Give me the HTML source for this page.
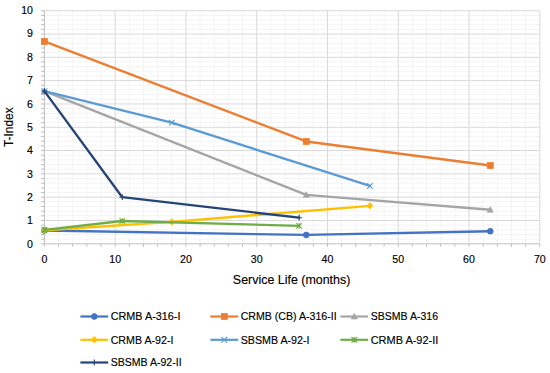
<!DOCTYPE html>
<html><head><meta charset="utf-8"><style>
html,body{margin:0;padding:0;background:#fff;}
svg{display:block;}
text{font-family:"Liberation Sans",sans-serif;fill:#000000;stroke:#000000;stroke-width:0.15px;}
</style></head><body>
<svg width="550" height="373" viewBox="0 0 550 373">
<rect width="550" height="373" fill="#fff"/>
<line x1="44.40" y1="239.14" x2="539.79" y2="239.14" stroke="#F4F4F4"/>
<line x1="44.40" y1="234.48" x2="539.79" y2="234.48" stroke="#F4F4F4"/>
<line x1="44.40" y1="229.81" x2="539.79" y2="229.81" stroke="#F4F4F4"/>
<line x1="44.40" y1="225.15" x2="539.79" y2="225.15" stroke="#F4F4F4"/>
<line x1="44.40" y1="215.83" x2="539.79" y2="215.83" stroke="#F4F4F4"/>
<line x1="44.40" y1="211.17" x2="539.79" y2="211.17" stroke="#F4F4F4"/>
<line x1="44.40" y1="206.50" x2="539.79" y2="206.50" stroke="#F4F4F4"/>
<line x1="44.40" y1="201.84" x2="539.79" y2="201.84" stroke="#F4F4F4"/>
<line x1="44.40" y1="192.52" x2="539.79" y2="192.52" stroke="#F4F4F4"/>
<line x1="44.40" y1="187.86" x2="539.79" y2="187.86" stroke="#F4F4F4"/>
<line x1="44.40" y1="183.19" x2="539.79" y2="183.19" stroke="#F4F4F4"/>
<line x1="44.40" y1="178.53" x2="539.79" y2="178.53" stroke="#F4F4F4"/>
<line x1="44.40" y1="169.21" x2="539.79" y2="169.21" stroke="#F4F4F4"/>
<line x1="44.40" y1="164.55" x2="539.79" y2="164.55" stroke="#F4F4F4"/>
<line x1="44.40" y1="159.88" x2="539.79" y2="159.88" stroke="#F4F4F4"/>
<line x1="44.40" y1="155.22" x2="539.79" y2="155.22" stroke="#F4F4F4"/>
<line x1="44.40" y1="145.90" x2="539.79" y2="145.90" stroke="#F4F4F4"/>
<line x1="44.40" y1="141.24" x2="539.79" y2="141.24" stroke="#F4F4F4"/>
<line x1="44.40" y1="136.57" x2="539.79" y2="136.57" stroke="#F4F4F4"/>
<line x1="44.40" y1="131.91" x2="539.79" y2="131.91" stroke="#F4F4F4"/>
<line x1="44.40" y1="122.59" x2="539.79" y2="122.59" stroke="#F4F4F4"/>
<line x1="44.40" y1="117.93" x2="539.79" y2="117.93" stroke="#F4F4F4"/>
<line x1="44.40" y1="113.26" x2="539.79" y2="113.26" stroke="#F4F4F4"/>
<line x1="44.40" y1="108.60" x2="539.79" y2="108.60" stroke="#F4F4F4"/>
<line x1="44.40" y1="99.28" x2="539.79" y2="99.28" stroke="#F4F4F4"/>
<line x1="44.40" y1="94.62" x2="539.79" y2="94.62" stroke="#F4F4F4"/>
<line x1="44.40" y1="89.95" x2="539.79" y2="89.95" stroke="#F4F4F4"/>
<line x1="44.40" y1="85.29" x2="539.79" y2="85.29" stroke="#F4F4F4"/>
<line x1="44.40" y1="75.97" x2="539.79" y2="75.97" stroke="#F4F4F4"/>
<line x1="44.40" y1="71.31" x2="539.79" y2="71.31" stroke="#F4F4F4"/>
<line x1="44.40" y1="66.64" x2="539.79" y2="66.64" stroke="#F4F4F4"/>
<line x1="44.40" y1="61.98" x2="539.79" y2="61.98" stroke="#F4F4F4"/>
<line x1="44.40" y1="52.66" x2="539.79" y2="52.66" stroke="#F4F4F4"/>
<line x1="44.40" y1="48.00" x2="539.79" y2="48.00" stroke="#F4F4F4"/>
<line x1="44.40" y1="43.33" x2="539.79" y2="43.33" stroke="#F4F4F4"/>
<line x1="44.40" y1="38.67" x2="539.79" y2="38.67" stroke="#F4F4F4"/>
<line x1="44.40" y1="29.35" x2="539.79" y2="29.35" stroke="#F4F4F4"/>
<line x1="44.40" y1="24.69" x2="539.79" y2="24.69" stroke="#F4F4F4"/>
<line x1="44.40" y1="20.02" x2="539.79" y2="20.02" stroke="#F4F4F4"/>
<line x1="44.40" y1="15.36" x2="539.79" y2="15.36" stroke="#F4F4F4"/>
<line x1="58.55" y1="10.70" x2="58.55" y2="243.80" stroke="#F4F4F4"/>
<line x1="72.71" y1="10.70" x2="72.71" y2="243.80" stroke="#F4F4F4"/>
<line x1="86.86" y1="10.70" x2="86.86" y2="243.80" stroke="#F4F4F4"/>
<line x1="101.02" y1="10.70" x2="101.02" y2="243.80" stroke="#F4F4F4"/>
<line x1="129.32" y1="10.70" x2="129.32" y2="243.80" stroke="#F4F4F4"/>
<line x1="143.48" y1="10.70" x2="143.48" y2="243.80" stroke="#F4F4F4"/>
<line x1="157.63" y1="10.70" x2="157.63" y2="243.80" stroke="#F4F4F4"/>
<line x1="171.79" y1="10.70" x2="171.79" y2="243.80" stroke="#F4F4F4"/>
<line x1="200.09" y1="10.70" x2="200.09" y2="243.80" stroke="#F4F4F4"/>
<line x1="214.25" y1="10.70" x2="214.25" y2="243.80" stroke="#F4F4F4"/>
<line x1="228.40" y1="10.70" x2="228.40" y2="243.80" stroke="#F4F4F4"/>
<line x1="242.56" y1="10.70" x2="242.56" y2="243.80" stroke="#F4F4F4"/>
<line x1="270.86" y1="10.70" x2="270.86" y2="243.80" stroke="#F4F4F4"/>
<line x1="285.02" y1="10.70" x2="285.02" y2="243.80" stroke="#F4F4F4"/>
<line x1="299.17" y1="10.70" x2="299.17" y2="243.80" stroke="#F4F4F4"/>
<line x1="313.33" y1="10.70" x2="313.33" y2="243.80" stroke="#F4F4F4"/>
<line x1="341.63" y1="10.70" x2="341.63" y2="243.80" stroke="#F4F4F4"/>
<line x1="355.79" y1="10.70" x2="355.79" y2="243.80" stroke="#F4F4F4"/>
<line x1="369.94" y1="10.70" x2="369.94" y2="243.80" stroke="#F4F4F4"/>
<line x1="384.10" y1="10.70" x2="384.10" y2="243.80" stroke="#F4F4F4"/>
<line x1="412.40" y1="10.70" x2="412.40" y2="243.80" stroke="#F4F4F4"/>
<line x1="426.56" y1="10.70" x2="426.56" y2="243.80" stroke="#F4F4F4"/>
<line x1="440.71" y1="10.70" x2="440.71" y2="243.80" stroke="#F4F4F4"/>
<line x1="454.87" y1="10.70" x2="454.87" y2="243.80" stroke="#F4F4F4"/>
<line x1="483.17" y1="10.70" x2="483.17" y2="243.80" stroke="#F4F4F4"/>
<line x1="497.33" y1="10.70" x2="497.33" y2="243.80" stroke="#F4F4F4"/>
<line x1="511.48" y1="10.70" x2="511.48" y2="243.80" stroke="#F4F4F4"/>
<line x1="525.64" y1="10.70" x2="525.64" y2="243.80" stroke="#F4F4F4"/>
<line x1="44.40" y1="220.49" x2="539.79" y2="220.49" stroke="#D9D9D9"/>
<line x1="44.40" y1="197.18" x2="539.79" y2="197.18" stroke="#D9D9D9"/>
<line x1="44.40" y1="173.87" x2="539.79" y2="173.87" stroke="#D9D9D9"/>
<line x1="44.40" y1="150.56" x2="539.79" y2="150.56" stroke="#D9D9D9"/>
<line x1="44.40" y1="127.25" x2="539.79" y2="127.25" stroke="#D9D9D9"/>
<line x1="44.40" y1="103.94" x2="539.79" y2="103.94" stroke="#D9D9D9"/>
<line x1="44.40" y1="80.63" x2="539.79" y2="80.63" stroke="#D9D9D9"/>
<line x1="44.40" y1="57.32" x2="539.79" y2="57.32" stroke="#D9D9D9"/>
<line x1="44.40" y1="34.01" x2="539.79" y2="34.01" stroke="#D9D9D9"/>
<line x1="44.40" y1="10.70" x2="539.79" y2="10.70" stroke="#D9D9D9"/>
<line x1="115.17" y1="10.70" x2="115.17" y2="243.80" stroke="#D9D9D9"/>
<line x1="185.94" y1="10.70" x2="185.94" y2="243.80" stroke="#D9D9D9"/>
<line x1="256.71" y1="10.70" x2="256.71" y2="243.80" stroke="#D9D9D9"/>
<line x1="327.48" y1="10.70" x2="327.48" y2="243.80" stroke="#D9D9D9"/>
<line x1="398.25" y1="10.70" x2="398.25" y2="243.80" stroke="#D9D9D9"/>
<line x1="469.02" y1="10.70" x2="469.02" y2="243.80" stroke="#D9D9D9"/>
<line x1="539.79" y1="10.70" x2="539.79" y2="243.80" stroke="#D9D9D9"/>
<line x1="41.00" y1="243.80" x2="44.40" y2="243.80" stroke="#BFBFBF"/>
<line x1="41.00" y1="239.14" x2="44.40" y2="239.14" stroke="#BFBFBF"/>
<line x1="41.00" y1="234.48" x2="44.40" y2="234.48" stroke="#BFBFBF"/>
<line x1="41.00" y1="229.81" x2="44.40" y2="229.81" stroke="#BFBFBF"/>
<line x1="41.00" y1="225.15" x2="44.40" y2="225.15" stroke="#BFBFBF"/>
<line x1="41.00" y1="220.49" x2="44.40" y2="220.49" stroke="#BFBFBF"/>
<line x1="41.00" y1="215.83" x2="44.40" y2="215.83" stroke="#BFBFBF"/>
<line x1="41.00" y1="211.17" x2="44.40" y2="211.17" stroke="#BFBFBF"/>
<line x1="41.00" y1="206.50" x2="44.40" y2="206.50" stroke="#BFBFBF"/>
<line x1="41.00" y1="201.84" x2="44.40" y2="201.84" stroke="#BFBFBF"/>
<line x1="41.00" y1="197.18" x2="44.40" y2="197.18" stroke="#BFBFBF"/>
<line x1="41.00" y1="192.52" x2="44.40" y2="192.52" stroke="#BFBFBF"/>
<line x1="41.00" y1="187.86" x2="44.40" y2="187.86" stroke="#BFBFBF"/>
<line x1="41.00" y1="183.19" x2="44.40" y2="183.19" stroke="#BFBFBF"/>
<line x1="41.00" y1="178.53" x2="44.40" y2="178.53" stroke="#BFBFBF"/>
<line x1="41.00" y1="173.87" x2="44.40" y2="173.87" stroke="#BFBFBF"/>
<line x1="41.00" y1="169.21" x2="44.40" y2="169.21" stroke="#BFBFBF"/>
<line x1="41.00" y1="164.55" x2="44.40" y2="164.55" stroke="#BFBFBF"/>
<line x1="41.00" y1="159.88" x2="44.40" y2="159.88" stroke="#BFBFBF"/>
<line x1="41.00" y1="155.22" x2="44.40" y2="155.22" stroke="#BFBFBF"/>
<line x1="41.00" y1="150.56" x2="44.40" y2="150.56" stroke="#BFBFBF"/>
<line x1="41.00" y1="145.90" x2="44.40" y2="145.90" stroke="#BFBFBF"/>
<line x1="41.00" y1="141.24" x2="44.40" y2="141.24" stroke="#BFBFBF"/>
<line x1="41.00" y1="136.57" x2="44.40" y2="136.57" stroke="#BFBFBF"/>
<line x1="41.00" y1="131.91" x2="44.40" y2="131.91" stroke="#BFBFBF"/>
<line x1="41.00" y1="127.25" x2="44.40" y2="127.25" stroke="#BFBFBF"/>
<line x1="41.00" y1="122.59" x2="44.40" y2="122.59" stroke="#BFBFBF"/>
<line x1="41.00" y1="117.93" x2="44.40" y2="117.93" stroke="#BFBFBF"/>
<line x1="41.00" y1="113.26" x2="44.40" y2="113.26" stroke="#BFBFBF"/>
<line x1="41.00" y1="108.60" x2="44.40" y2="108.60" stroke="#BFBFBF"/>
<line x1="41.00" y1="103.94" x2="44.40" y2="103.94" stroke="#BFBFBF"/>
<line x1="41.00" y1="99.28" x2="44.40" y2="99.28" stroke="#BFBFBF"/>
<line x1="41.00" y1="94.62" x2="44.40" y2="94.62" stroke="#BFBFBF"/>
<line x1="41.00" y1="89.95" x2="44.40" y2="89.95" stroke="#BFBFBF"/>
<line x1="41.00" y1="85.29" x2="44.40" y2="85.29" stroke="#BFBFBF"/>
<line x1="41.00" y1="80.63" x2="44.40" y2="80.63" stroke="#BFBFBF"/>
<line x1="41.00" y1="75.97" x2="44.40" y2="75.97" stroke="#BFBFBF"/>
<line x1="41.00" y1="71.31" x2="44.40" y2="71.31" stroke="#BFBFBF"/>
<line x1="41.00" y1="66.64" x2="44.40" y2="66.64" stroke="#BFBFBF"/>
<line x1="41.00" y1="61.98" x2="44.40" y2="61.98" stroke="#BFBFBF"/>
<line x1="41.00" y1="57.32" x2="44.40" y2="57.32" stroke="#BFBFBF"/>
<line x1="41.00" y1="52.66" x2="44.40" y2="52.66" stroke="#BFBFBF"/>
<line x1="41.00" y1="48.00" x2="44.40" y2="48.00" stroke="#BFBFBF"/>
<line x1="41.00" y1="43.33" x2="44.40" y2="43.33" stroke="#BFBFBF"/>
<line x1="41.00" y1="38.67" x2="44.40" y2="38.67" stroke="#BFBFBF"/>
<line x1="41.00" y1="34.01" x2="44.40" y2="34.01" stroke="#BFBFBF"/>
<line x1="41.00" y1="29.35" x2="44.40" y2="29.35" stroke="#BFBFBF"/>
<line x1="41.00" y1="24.69" x2="44.40" y2="24.69" stroke="#BFBFBF"/>
<line x1="41.00" y1="20.02" x2="44.40" y2="20.02" stroke="#BFBFBF"/>
<line x1="41.00" y1="15.36" x2="44.40" y2="15.36" stroke="#BFBFBF"/>
<line x1="41.00" y1="10.70" x2="44.40" y2="10.70" stroke="#BFBFBF"/>
<line x1="44.40" y1="243.80" x2="44.40" y2="246.80" stroke="#BFBFBF"/>
<line x1="58.55" y1="243.80" x2="58.55" y2="246.80" stroke="#BFBFBF"/>
<line x1="72.71" y1="243.80" x2="72.71" y2="246.80" stroke="#BFBFBF"/>
<line x1="86.86" y1="243.80" x2="86.86" y2="246.80" stroke="#BFBFBF"/>
<line x1="101.02" y1="243.80" x2="101.02" y2="246.80" stroke="#BFBFBF"/>
<line x1="115.17" y1="243.80" x2="115.17" y2="246.80" stroke="#BFBFBF"/>
<line x1="129.32" y1="243.80" x2="129.32" y2="246.80" stroke="#BFBFBF"/>
<line x1="143.48" y1="243.80" x2="143.48" y2="246.80" stroke="#BFBFBF"/>
<line x1="157.63" y1="243.80" x2="157.63" y2="246.80" stroke="#BFBFBF"/>
<line x1="171.79" y1="243.80" x2="171.79" y2="246.80" stroke="#BFBFBF"/>
<line x1="185.94" y1="243.80" x2="185.94" y2="246.80" stroke="#BFBFBF"/>
<line x1="200.09" y1="243.80" x2="200.09" y2="246.80" stroke="#BFBFBF"/>
<line x1="214.25" y1="243.80" x2="214.25" y2="246.80" stroke="#BFBFBF"/>
<line x1="228.40" y1="243.80" x2="228.40" y2="246.80" stroke="#BFBFBF"/>
<line x1="242.56" y1="243.80" x2="242.56" y2="246.80" stroke="#BFBFBF"/>
<line x1="256.71" y1="243.80" x2="256.71" y2="246.80" stroke="#BFBFBF"/>
<line x1="270.86" y1="243.80" x2="270.86" y2="246.80" stroke="#BFBFBF"/>
<line x1="285.02" y1="243.80" x2="285.02" y2="246.80" stroke="#BFBFBF"/>
<line x1="299.17" y1="243.80" x2="299.17" y2="246.80" stroke="#BFBFBF"/>
<line x1="313.33" y1="243.80" x2="313.33" y2="246.80" stroke="#BFBFBF"/>
<line x1="327.48" y1="243.80" x2="327.48" y2="246.80" stroke="#BFBFBF"/>
<line x1="341.63" y1="243.80" x2="341.63" y2="246.80" stroke="#BFBFBF"/>
<line x1="355.79" y1="243.80" x2="355.79" y2="246.80" stroke="#BFBFBF"/>
<line x1="369.94" y1="243.80" x2="369.94" y2="246.80" stroke="#BFBFBF"/>
<line x1="384.10" y1="243.80" x2="384.10" y2="246.80" stroke="#BFBFBF"/>
<line x1="398.25" y1="243.80" x2="398.25" y2="246.80" stroke="#BFBFBF"/>
<line x1="412.40" y1="243.80" x2="412.40" y2="246.80" stroke="#BFBFBF"/>
<line x1="426.56" y1="243.80" x2="426.56" y2="246.80" stroke="#BFBFBF"/>
<line x1="440.71" y1="243.80" x2="440.71" y2="246.80" stroke="#BFBFBF"/>
<line x1="454.87" y1="243.80" x2="454.87" y2="246.80" stroke="#BFBFBF"/>
<line x1="469.02" y1="243.80" x2="469.02" y2="246.80" stroke="#BFBFBF"/>
<line x1="483.17" y1="243.80" x2="483.17" y2="246.80" stroke="#BFBFBF"/>
<line x1="497.33" y1="243.80" x2="497.33" y2="246.80" stroke="#BFBFBF"/>
<line x1="511.48" y1="243.80" x2="511.48" y2="246.80" stroke="#BFBFBF"/>
<line x1="525.64" y1="243.80" x2="525.64" y2="246.80" stroke="#BFBFBF"/>
<line x1="539.79" y1="243.80" x2="539.79" y2="246.80" stroke="#BFBFBF"/>
<line x1="44.40" y1="10.70" x2="44.40" y2="243.80" stroke="#BFBFBF"/>
<line x1="44.40" y1="243.80" x2="539.79" y2="243.80" stroke="#BFBFBF"/>
<path d="M44.40 230.51L306.25 234.94L490.25 231.21" fill="none" stroke="#4472C4" stroke-width="2.35" stroke-linejoin="round" stroke-linecap="round"/>
<circle cx="44.40" cy="230.51" r="2.90" fill="#4472C4" stroke="#4472C4" stroke-width="0.75"/>
<circle cx="306.25" cy="234.94" r="2.90" fill="#4472C4" stroke="#4472C4" stroke-width="0.75"/>
<circle cx="490.25" cy="231.21" r="2.90" fill="#4472C4" stroke="#4472C4" stroke-width="0.75"/>
<path d="M44.40 41.47L306.25 141.47L490.25 165.48" fill="none" stroke="#ED7D31" stroke-width="2.35" stroke-linejoin="round" stroke-linecap="round"/>
<rect x="41.40" y="38.47" width="6.00" height="6.00" fill="#ED7D31" stroke="#ED7D31" stroke-width="0.75"/>
<rect x="303.25" y="138.47" width="6.00" height="6.00" fill="#ED7D31" stroke="#ED7D31" stroke-width="0.75"/>
<rect x="487.25" y="162.48" width="6.00" height="6.00" fill="#ED7D31" stroke="#ED7D31" stroke-width="0.75"/>
<path d="M44.40 91.12L306.25 194.85L490.25 209.77" fill="none" stroke="#A5A5A5" stroke-width="2.35" stroke-linejoin="round" stroke-linecap="round"/>
<path d="M44.40 88.12L47.40 93.52L41.40 93.52Z" fill="#A5A5A5" stroke="#A5A5A5" stroke-width="0.75"/>
<path d="M306.25 191.85L309.25 197.25L303.25 197.25Z" fill="#A5A5A5" stroke="#A5A5A5" stroke-width="0.75"/>
<path d="M490.25 206.77L493.25 212.17L487.25 212.17Z" fill="#A5A5A5" stroke="#A5A5A5" stroke-width="0.75"/>
<path d="M44.40 230.28L171.79 221.89L369.94 205.80" fill="none" stroke="#FFC000" stroke-width="2.35" stroke-linejoin="round" stroke-linecap="round"/>
<path d="M44.40 226.98L47.20 230.28L44.40 233.58L41.59 230.28Z" fill="#FFC000" stroke="#FFC000" stroke-width="0.75"/>
<path d="M171.79 218.59L174.59 221.89L171.79 225.19L168.98 221.89Z" fill="#FFC000" stroke="#FFC000" stroke-width="0.75"/>
<path d="M369.94 202.50L372.75 205.80L369.94 209.10L367.14 205.80Z" fill="#FFC000" stroke="#FFC000" stroke-width="0.75"/>
<path d="M44.40 91.12L171.79 122.59L369.94 185.99" fill="none" stroke="#5B9BD5" stroke-width="2.35" stroke-linejoin="round" stroke-linecap="round"/>
<path d="M41.60 88.32L47.20 93.92M47.20 88.32L41.60 93.92" stroke="#5B9BD5" stroke-width="1.1" fill="none"/>
<path d="M168.99 119.79L174.59 125.39M174.59 119.79L168.99 125.39" stroke="#5B9BD5" stroke-width="1.1" fill="none"/>
<path d="M367.14 183.19L372.74 188.79M372.74 183.19L367.14 188.79" stroke="#5B9BD5" stroke-width="1.1" fill="none"/>
<path d="M44.40 229.81L122.25 220.96L299.17 225.85" fill="none" stroke="#70AD47" stroke-width="2.35" stroke-linejoin="round" stroke-linecap="round"/>
<path d="M41.60 227.01L47.20 232.61M47.20 227.01L41.60 232.61M44.40 227.01L44.40 232.61" stroke="#70AD47" stroke-width="1.1" fill="none"/>
<path d="M119.45 218.16L125.05 223.76M125.05 218.16L119.45 223.76M122.25 218.16L122.25 223.76" stroke="#70AD47" stroke-width="1.1" fill="none"/>
<path d="M296.37 223.05L301.97 228.65M301.97 223.05L296.37 228.65M299.17 223.05L299.17 228.65" stroke="#70AD47" stroke-width="1.1" fill="none"/>
<path d="M44.40 91.12L122.25 197.18L299.17 217.69" fill="none" stroke="#264478" stroke-width="2.35" stroke-linejoin="round" stroke-linecap="round"/>
<path d="M41.50 91.12L47.30 91.12M44.40 88.22L44.40 94.02" stroke="#264478" stroke-width="1.1" fill="none"/>
<path d="M119.35 197.18L125.15 197.18M122.25 194.28L122.25 200.08" stroke="#264478" stroke-width="1.1" fill="none"/>
<path d="M296.27 217.69L302.07 217.69M299.17 214.79L299.17 220.59" stroke="#264478" stroke-width="1.1" fill="none"/>
<text x="33" y="247.60" text-anchor="end" font-size="10.6">0</text>
<text x="33" y="224.29" text-anchor="end" font-size="10.6">1</text>
<text x="33" y="200.98" text-anchor="end" font-size="10.6">2</text>
<text x="33" y="177.67" text-anchor="end" font-size="10.6">3</text>
<text x="33" y="154.36" text-anchor="end" font-size="10.6">4</text>
<text x="33" y="131.05" text-anchor="end" font-size="10.6">5</text>
<text x="33" y="107.74" text-anchor="end" font-size="10.6">6</text>
<text x="33" y="84.43" text-anchor="end" font-size="10.6">7</text>
<text x="33" y="61.12" text-anchor="end" font-size="10.6">8</text>
<text x="33" y="37.31" text-anchor="end" font-size="10.6">9</text>
<text x="33" y="13.50" text-anchor="end" font-size="10.6">10</text>
<text x="44.40" y="263.0" text-anchor="middle" font-size="10.6">0</text>
<text x="115.17" y="263.0" text-anchor="middle" font-size="10.6">10</text>
<text x="185.94" y="263.0" text-anchor="middle" font-size="10.6">20</text>
<text x="256.71" y="263.0" text-anchor="middle" font-size="10.6">30</text>
<text x="327.48" y="263.0" text-anchor="middle" font-size="10.6">40</text>
<text x="398.25" y="263.0" text-anchor="middle" font-size="10.6">50</text>
<text x="469.02" y="263.0" text-anchor="middle" font-size="10.6">60</text>
<text x="539.79" y="263.0" text-anchor="middle" font-size="10.6">70</text>
<text x="291.6" y="284.4" text-anchor="middle" font-size="12.8" textLength="117.5" lengthAdjust="spacingAndGlyphs">Service Life (months)</text>
<text transform="translate(12.6 127.2) rotate(-90)" text-anchor="middle" font-size="12.8" textLength="39.6" lengthAdjust="spacingAndGlyphs">T-Index</text>
<line x1="80.40" y1="316.50" x2="108.20" y2="316.50" stroke="#4472C4" stroke-width="2.2"/>
<circle cx="94.30" cy="316.50" r="2.90" fill="#4472C4" stroke="#4472C4" stroke-width="0.75"/>
<text x="110.70" y="320.40" font-size="10.6" textLength="69.8" lengthAdjust="spacingAndGlyphs">CRMB A-316-I</text>
<line x1="210.40" y1="316.50" x2="238.20" y2="316.50" stroke="#ED7D31" stroke-width="2.2"/>
<rect x="221.30" y="313.50" width="6.00" height="6.00" fill="#ED7D31" stroke="#ED7D31" stroke-width="0.75"/>
<text x="240.70" y="320.40" font-size="10.6" textLength="95.9" lengthAdjust="spacingAndGlyphs">CRMB (CB) A-316-II</text>
<line x1="340.40" y1="316.50" x2="368.20" y2="316.50" stroke="#A5A5A5" stroke-width="2.2"/>
<path d="M354.30 313.50L357.30 318.90L351.30 318.90Z" fill="#A5A5A5" stroke="#A5A5A5" stroke-width="0.75"/>
<text x="370.70" y="320.40" font-size="10.6" textLength="67.3" lengthAdjust="spacingAndGlyphs">SBSMB A-316</text>
<line x1="80.40" y1="339.80" x2="108.20" y2="339.80" stroke="#FFC000" stroke-width="2.2"/>
<path d="M94.30 336.50L97.11 339.80L94.30 343.10L91.50 339.80Z" fill="#FFC000" stroke="#FFC000" stroke-width="0.75"/>
<text x="110.70" y="343.70" font-size="10.6" textLength="62.7" lengthAdjust="spacingAndGlyphs">CRMB A-92-I</text>
<line x1="210.40" y1="339.80" x2="238.20" y2="339.80" stroke="#5B9BD5" stroke-width="2.2"/>
<path d="M221.50 337.00L227.10 342.60M227.10 337.00L221.50 342.60" stroke="#5B9BD5" stroke-width="1.1" fill="none"/>
<text x="240.70" y="343.70" font-size="10.6" textLength="68.8" lengthAdjust="spacingAndGlyphs">SBSMB A-92-I</text>
<line x1="340.40" y1="339.80" x2="368.20" y2="339.80" stroke="#70AD47" stroke-width="2.2"/>
<path d="M351.50 337.00L357.10 342.60M357.10 337.00L351.50 342.60M354.30 337.00L354.30 342.60" stroke="#70AD47" stroke-width="1.1" fill="none"/>
<text x="370.70" y="343.70" font-size="10.6" textLength="67.6" lengthAdjust="spacingAndGlyphs">CRMB A-92-II</text>
<line x1="80.40" y1="362.50" x2="108.20" y2="362.50" stroke="#264478" stroke-width="2.2"/>
<path d="M91.40 362.50L97.20 362.50M94.30 359.60L94.30 365.40" stroke="#264478" stroke-width="1.1" fill="none"/>
<text x="110.70" y="366.40" font-size="10.6" textLength="70.9" lengthAdjust="spacingAndGlyphs">SBSMB A-92-II</text>
</svg>
</body></html>
